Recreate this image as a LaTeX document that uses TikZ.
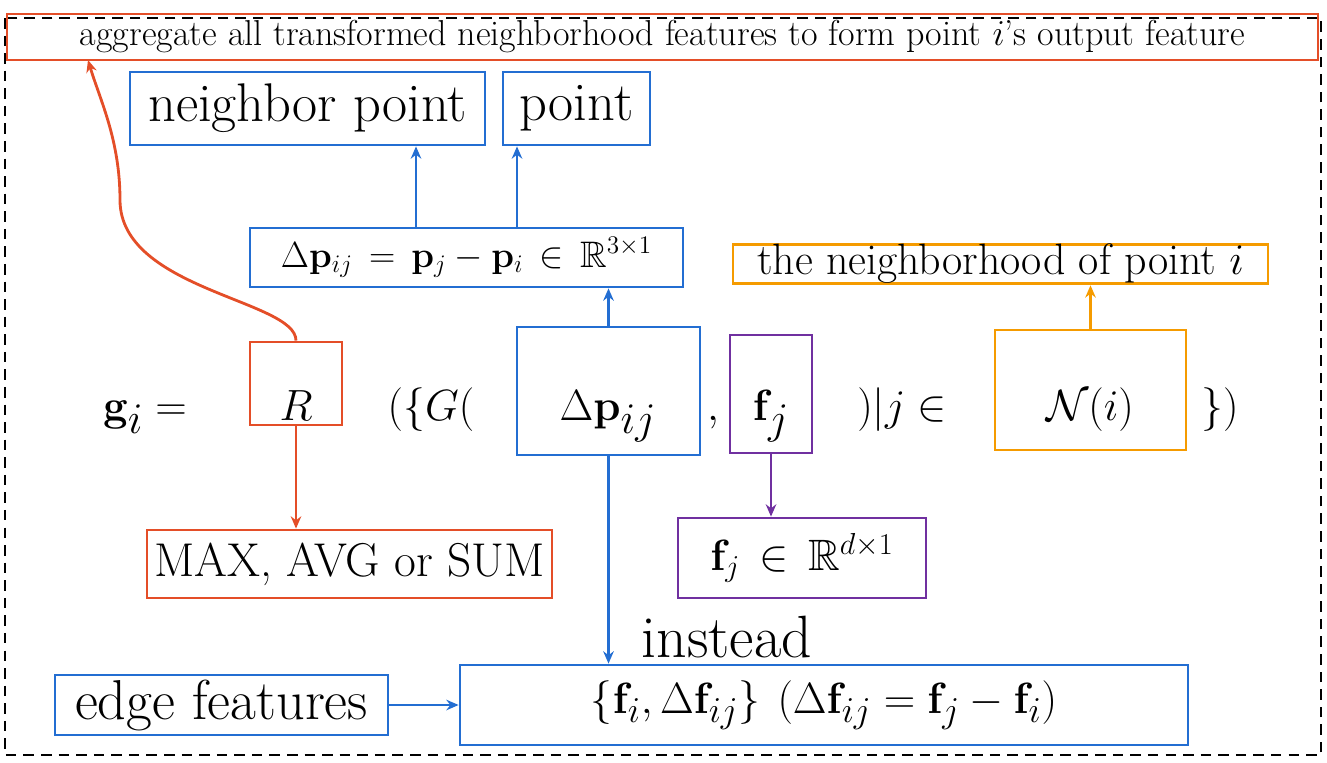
\documentclass[tikz,border=0pt]{standalone}
\usepackage{amsmath,amssymb}
\usetikzlibrary{arrows.meta}
\definecolor{cred}{RGB}{228,78,40}
\definecolor{cblue}{RGB}{35,110,210}
\definecolor{cpurp}{RGB}{112,48,160}
\definecolor{corange}{RGB}{245,155,0}
\begin{document}
\begin{tikzpicture}[x=0.02cm,y=-0.02cm,
  bx/.style={draw,line width=1.6pt,inner sep=0pt},
  ar/.style={-{Stealth[length=7pt,width=6pt]},line width=1.6pt},
  fs/.style={font=\fontsize{#1}{#1}\selectfont}]
\useasboundingbox (0,0) rectangle (1327,763);
\draw[line width=1.6pt,dash pattern=on 6pt off 4pt] (5,18) rectangle (1321,755);
% top
\node[bx,cred,minimum width=1311*0.02cm,minimum height=46*0.02cm,text=black,fs=20.5] (top) at (662.5,37) {aggregate all transformed neighborhood features to form point $i$'s output feature};
\node[bx,cblue,minimum width=355*0.02cm,minimum height=73*0.02cm,text=black,fs=31] (np) at (307.5,108.5) {neighbor point};
\node[bx,cblue,minimum width=147*0.02cm,minimum height=73*0.02cm,text=black,fs=31] (pt) at (576.5,108.5) {point};
\node[bx,cblue,minimum width=433*0.02cm,minimum height=59*0.02cm,text=black,fs=21] (dp) at (466.5,257.5) {$\Delta\mathbf{p}_{ij}\,=\,\mathbf{p}_j-\mathbf{p}_i\,\in\,\mathbb{R}^{3\times1}$};
\node[bx,corange,minimum width=535*0.02cm,minimum height=38*0.02cm,text=black,fs=25] (nb) at (1000.5,264) {the neighborhood of point $i$};
% main equation
\begin{scope}[fs=50]
\node[anchor=base] (e1) at (145,420) {$\mathbf{g}_i=$};
\node[anchor=base] (e2) at (296,420) {$R$};
\node[anchor=base] (e3) at (431,420) {$(\{G($};
\node[anchor=base] (e4) at (608,420) {$\Delta\mathbf{p}_{ij}$};
\node[anchor=base] (e5) at (713,420) {$,$};
\node[anchor=base] (e6) at (771,420) {$\mathbf{f}_j$};
\node[anchor=base] (e7) at (902,420) {$)|j\in$};
\node[anchor=base] (e8) at (1090,420) {$\mathcal{N}(i)$};
\node[anchor=base] (e9) at (1220,420) {$\})$};
\end{scope}
\node[bx,cred,minimum width=92*0.02cm,minimum height=83*0.02cm] (Rb) at (296,383.5) {};
\node[bx,cblue,minimum width=183*0.02cm,minimum height=128*0.02cm] (Db) at (608.5,391) {};
\node[bx,cpurp,minimum width=82*0.02cm,minimum height=118*0.02cm] (Fb) at (771,394) {};
\node[bx,corange,minimum width=191*0.02cm,minimum height=120*0.02cm] (Nb) at (1090.5,390) {};
% lower
\node[bx,cred,minimum width=405*0.02cm,minimum height=68*0.02cm,text=black,fs=27] (mx) at (349.5,564) {MAX, AVG or SUM};
\node[bx,cpurp,minimum width=248*0.02cm,minimum height=80*0.02cm,text=black,fs=25] (fr) at (802,558) {$\mathbf{f}_j\,\in\,\mathbb{R}^{d\times1}$};
\node[fs=34,anchor=base] (ins) at (727,657) {instead};
\node[bx,cblue,minimum width=333*0.02cm,minimum height=60*0.02cm,text=black,fs=32] (ef) at (221.5,705) {edge features};
\node[bx,cblue,minimum width=728*0.02cm,minimum height=80*0.02cm,text=black,fs=32] (big) at (824,705) {$\{\mathbf{f}_i,\Delta\mathbf{f}_{ij}\}\ (\Delta\mathbf{f}_{ij}=\mathbf{f}_j-\mathbf{f}_i)$};
% arrows
\draw[ar,cred] (Rb.north) .. controls (296,300) and (120,290) .. (120,200) .. controls (120,140) and (100,100) .. (88,60);
\draw[ar,cred] (Rb.south) -- (mx.north -| Rb.south);
\draw[ar,cblue] (Db.north) -- (Db.north |- dp.south);
\draw[ar,cblue] (Db.south) -- (Db.south |- big.north);
\draw[ar,cblue] (dp.north -| 416,0) -- (np.south -| 416,0);
\draw[ar,cblue] (dp.north -| 517,0) -- (pt.south -| 517,0);
\draw[ar,cpurp] (Fb.south) -- (Fb.south |- fr.north);
\draw[ar,corange] (Nb.north) -- (Nb.north |- nb.south);
\draw[ar,cblue] (ef.east) -- (big.west);
\end{tikzpicture}
\end{document}
